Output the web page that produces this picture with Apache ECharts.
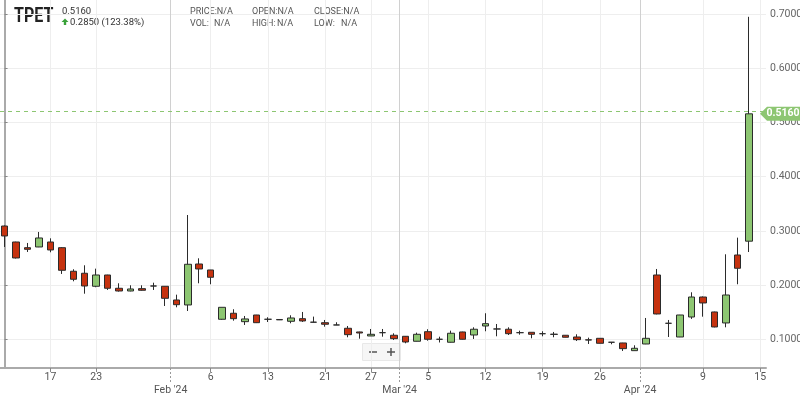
<!DOCTYPE html>
<html><head><meta charset="utf-8">
<script src="https://cdn.jsdelivr.net/npm/echarts@6/dist/echarts.min.js"></script>
<style>html,body{margin:0;padding:0;background:#fff}#c{width:800px;height:395px}</style>
</head><body><div id="c"></div>
<script>
// Trading days (index = position on the x axis)
const dates = [
 '2024-01-10','2024-01-11','2024-01-12','2024-01-16','2024-01-17','2024-01-18','2024-01-19','2024-01-22','2024-01-23','2024-01-24',
 '2024-01-25','2024-01-26','2024-01-29','2024-01-30','2024-01-31','2024-02-01','2024-02-02','2024-02-05','2024-02-06','2024-02-07',
 '2024-02-08','2024-02-09','2024-02-12','2024-02-13','2024-02-14','2024-02-15','2024-02-16','2024-02-20','2024-02-21','2024-02-22',
 '2024-02-23','2024-02-26','2024-02-27','2024-02-28','2024-02-29','2024-03-01','2024-03-04','2024-03-05','2024-03-06','2024-03-07',
 '2024-03-08','2024-03-11','2024-03-12','2024-03-13','2024-03-14','2024-03-15','2024-03-18','2024-03-19','2024-03-20','2024-03-21',
 '2024-03-22','2024-03-25','2024-03-26','2024-03-27','2024-03-28','2024-04-01','2024-04-02','2024-04-03','2024-04-04','2024-04-05',
 '2024-04-08','2024-04-09','2024-04-10','2024-04-11','2024-04-12','2024-04-15'
];
const openV = [0.309,0.2795,0.269,0.2703,0.2795,0.269,0.2255,0.2218,0.1978,0.2186,
 0.1941,0.1891,0.1934,0.1983,0.1978,0.1725,0.1633,0.2389,0.2279,0.1369,
 0.148,0.1325,0.1448,0.1369,0.1365,0.1332,0.138,0.1316,0.1306,0.1264,
 0.1203,0.1135,0.1061,0.1122,0.1074,0.1055,0.0963,0.114,0.100,0.0945,
 0.1135,0.1079,0.1245,0.119,0.1185,0.1122,0.1129,0.1103,0.1094,0.1074,
 0.1042,0.099,0.1018,0.0945,0.0932,0.079,0.0913,0.2186,0.1295,0.1042,
 0.1411,0.178,0.1504,0.1301,0.2555,0.281];
const closeV = [0.2906,0.25,0.266,0.2869,0.2648,0.2273,0.2107,0.1983,0.2186,0.1941,
 0.1891,0.1928,0.1904,0.1983,0.1756,0.1638,0.2384,0.2297,0.2144,0.159,
 0.138,0.1375,0.1306,0.1369,0.1358,0.1393,0.1338,0.1314,0.1277,0.1264,
 0.1085,0.1116,0.1092,0.1122,0.1011,0.095,0.1092,0.100,0.100,0.1111,
 0.100,0.1185,0.1288,0.119,0.1103,0.1122,0.1092,0.1103,0.109,0.1037,
 0.0993,0.0986,0.0926,0.0945,0.0827,0.0834,0.1018,0.1467,0.1295,0.1448,
 0.178,0.167,0.1227,0.1817,0.231,0.516];
const lowV = [0.2703,0.249,0.2611,0.270,0.2605,0.2205,0.207,0.1841,0.196,0.191,
 0.188,0.1885,0.1897,0.191,0.1614,0.159,0.1522,0.2033,0.2015,0.136,
 0.1343,0.1264,0.130,0.1319,0.1355,0.1295,0.132,0.1312,0.1232,0.1262,
 0.1037,0.1011,0.106,0.1048,0.0987,0.0926,0.096,0.0974,0.0941,0.094,
 0.0995,0.1006,0.1148,0.1055,0.1079,0.1085,0.1018,0.1055,0.1037,0.1035,
 0.0969,0.0913,0.0924,0.0908,0.0784,0.0788,0.091,0.146,0.1042,0.104,
 0.1375,0.1417,0.122,0.1221,0.2015,0.261];
const highV = [0.310,0.280,0.2777,0.298,0.2863,0.270,0.2292,0.2365,0.2303,0.219,
 0.2033,0.1996,0.1996,0.2044,0.198,0.1823,0.3293,0.2494,0.228,0.159,
 0.1554,0.143,0.145,0.1406,0.1365,0.1443,0.1504,0.1418,0.1356,0.1314,
 0.1245,0.114,0.119,0.119,0.111,0.106,0.1122,0.1185,0.1048,0.1159,
 0.114,0.1221,0.148,0.1282,0.1221,0.1159,0.113,0.1148,0.1135,0.1076,
 0.1092,0.103,0.102,0.0945,0.0935,0.0889,0.1393,0.2297,0.1356,0.145,
 0.1867,0.179,0.151,0.2568,0.2875,0.695];
const lastPrice = 0.516;
const change = 0.2850, changePct = 123.38;
// x-axis ticks (positions in trading-day index units)
const dayTickIdx = [4,8,18,23,28,32,37,42,47,52,61,66];
const dayTickLabels = ['17','23','6','13','21','27','5','12','19','26','9','15'];
const monthTickIdx = [14.5,34.5,55.5];
const monthTickLabels = ["Feb '24","Mar '24","Apr '24"];
const priceTicks = [0.1,0.2,0.3,0.4,0.5,0.6,0.7];

const candles = dates.map((d,i)=>[i, openV[i], closeV[i], lowV[i], highV[i]]);
const FONT = 'Roboto, "Open Sans", sans-serif';
const chart = echarts.init(document.getElementById('c'), null, {renderer:'canvas'});
const xMin = -0.4, xMax = 66.5;
chart.setOption({
  animation:false,
  backgroundColor:'#fff',
  grid:{left:0,right:34,top:0,bottom:27,containLabel:false,outerBoundsMode:'none'},
  xAxis:[{
    type:'value',min:xMin,max:xMax,position:'bottom',
    axisLine:{show:true,onZero:false,lineStyle:{color:'#aaa',width:2}},
    axisTick:{show:true,customValues:dayTickIdx,length:4,lineStyle:{color:'#888'}},
    splitLine:{show:true,lineStyle:{color:'#eeeeee',width:1}},
    axisLabel:{customValues:dayTickIdx,margin:4,color:'#555',fontSize:10.5,fontFamily:FONT,
      formatter:v=>{const k=dayTickIdx.indexOf(Math.round(v));return k>=0?dayTickLabels[k]:'';}}
  },{
    type:'value',min:xMin,max:xMax,position:'bottom',
    axisLine:{show:false,onZero:false},
    axisTick:{show:true,customValues:monthTickIdx,length:14,lineStyle:{color:'#999',type:[2,2]}},
    splitLine:{show:true,lineStyle:{color:'#d0d0d0',width:1}},
    axisLabel:{customValues:monthTickIdx,margin:17,color:'#555',fontSize:10.5,fontFamily:FONT,
      formatter:v=>{let b=0,bd=1e9;monthTickIdx.forEach((m,k)=>{if(Math.abs(m-v)<bd){bd=Math.abs(m-v);b=k;}});return monthTickLabels[b];}}
  }],
  yAxis:{
    type:'value',position:'right',min:0.047,max:0.726,scale:true,
    axisLine:{show:true,lineStyle:{color:'#aaa',width:2}},
    axisTick:{show:true,customValues:priceTicks,length:3,lineStyle:{color:'#888'}},
    splitLine:{show:true,lineStyle:{color:'#eeeeee',width:1}},
    axisLabel:{customValues:priceTicks,margin:4,color:'#666',fontSize:10.5,fontFamily:FONT,
      formatter:v=>v.toFixed(4)}
  },
  series:[{
    type:'candlestick',xAxisIndex:0,yAxisIndex:0,
    data:candles,encode:{x:0,y:[1,2,3,4]},
    barWidth:7,
    itemStyle:{color:'#8dc672',color0:'#c6320f',borderColor:'#2b2b2b',borderColor0:'#2b2b2b',borderWidth:1},
    markLine:{silent:true,symbol:['none','none'],
      lineStyle:{color:'#8dc672',type:[4,4],width:1},
      label:{show:false},
      data:[{yAxis:lastPrice}]},
    markPoint:{silent:true,
      symbol:'path://M0,7 L7,0 L40,0 L40,14 L7,14 Z',symbolSize:[40,14],symbolKeepAspect:false,
      symbolOffset:[14,0],
      itemStyle:{color:'#8dc672'},
      label:{show:true,color:'#fff',fontWeight:'bold',fontSize:10.5,fontFamily:FONT,offset:[3,0],
        formatter:()=>lastPrice.toFixed(4)},
      data:[{coord:[xMax,lastPrice]}]}
  }],
  graphic:[
    {type:'text',x:14,y:7,scaleX:0.8,style:{text:'TPET',font:'bold 20px '+FONT,fill:'#222'}},
    {type:'text',left:62,top:7,style:{text:lastPrice.toFixed(4),font:'9.5px '+FONT,fill:'#333'}},
    {type:'polygon',shape:{points:[[65,18.5],[68.5,22],[66.2,22],[66.2,25],[63.8,25],[63.8,22],[61.5,22]]},style:{fill:'#3aa23a'}},
    {type:'text',left:70,top:18,style:{text:change.toFixed(4)+' ('+changePct.toFixed(2)+'%)',font:'9.5px '+FONT,fill:'#333'}},
    {type:'text',left:190,top:7,style:{text:'PRICE:N/A',font:'9px '+FONT,fill:'#555'}},
    {type:'text',left:190,top:19,style:{text:'VOL:',font:'9px '+FONT,fill:'#555'}},
    {type:'text',left:214,top:19,style:{text:'N/A',font:'9px '+FONT,fill:'#555'}},
    {type:'text',left:252,top:7,style:{text:'OPEN:N/A',font:'9px '+FONT,fill:'#555'}},
    {type:'text',left:252,top:19,style:{text:'HIGH:',font:'9px '+FONT,fill:'#555'}},
    {type:'text',left:277,top:19,style:{text:'N/A',font:'9px '+FONT,fill:'#555'}},
    {type:'text',left:314,top:7,style:{text:'CLOSE:N/A',font:'9px '+FONT,fill:'#555'}},
    {type:'text',left:314,top:19,style:{text:'LOW:',font:'9px '+FONT,fill:'#555'}},
    {type:'text',left:341,top:19,style:{text:'N/A',font:'9px '+FONT,fill:'#555'}},
    {type:'rect',left:362,top:343,shape:{width:38,height:17},style:{fill:'#f6f6f6',stroke:'#e8e8e8'}},
    {type:'line',shape:{x1:369,y1:352,x2:377,y2:352},style:{stroke:'#555',lineWidth:1.5}},
    {type:'line',shape:{x1:387,y1:352,x2:395,y2:352},style:{stroke:'#555',lineWidth:1.5}},
    {type:'line',shape:{x1:391,y1:348,x2:391,y2:356},style:{stroke:'#555',lineWidth:1.5}}
  ]
});
</script></body></html>
